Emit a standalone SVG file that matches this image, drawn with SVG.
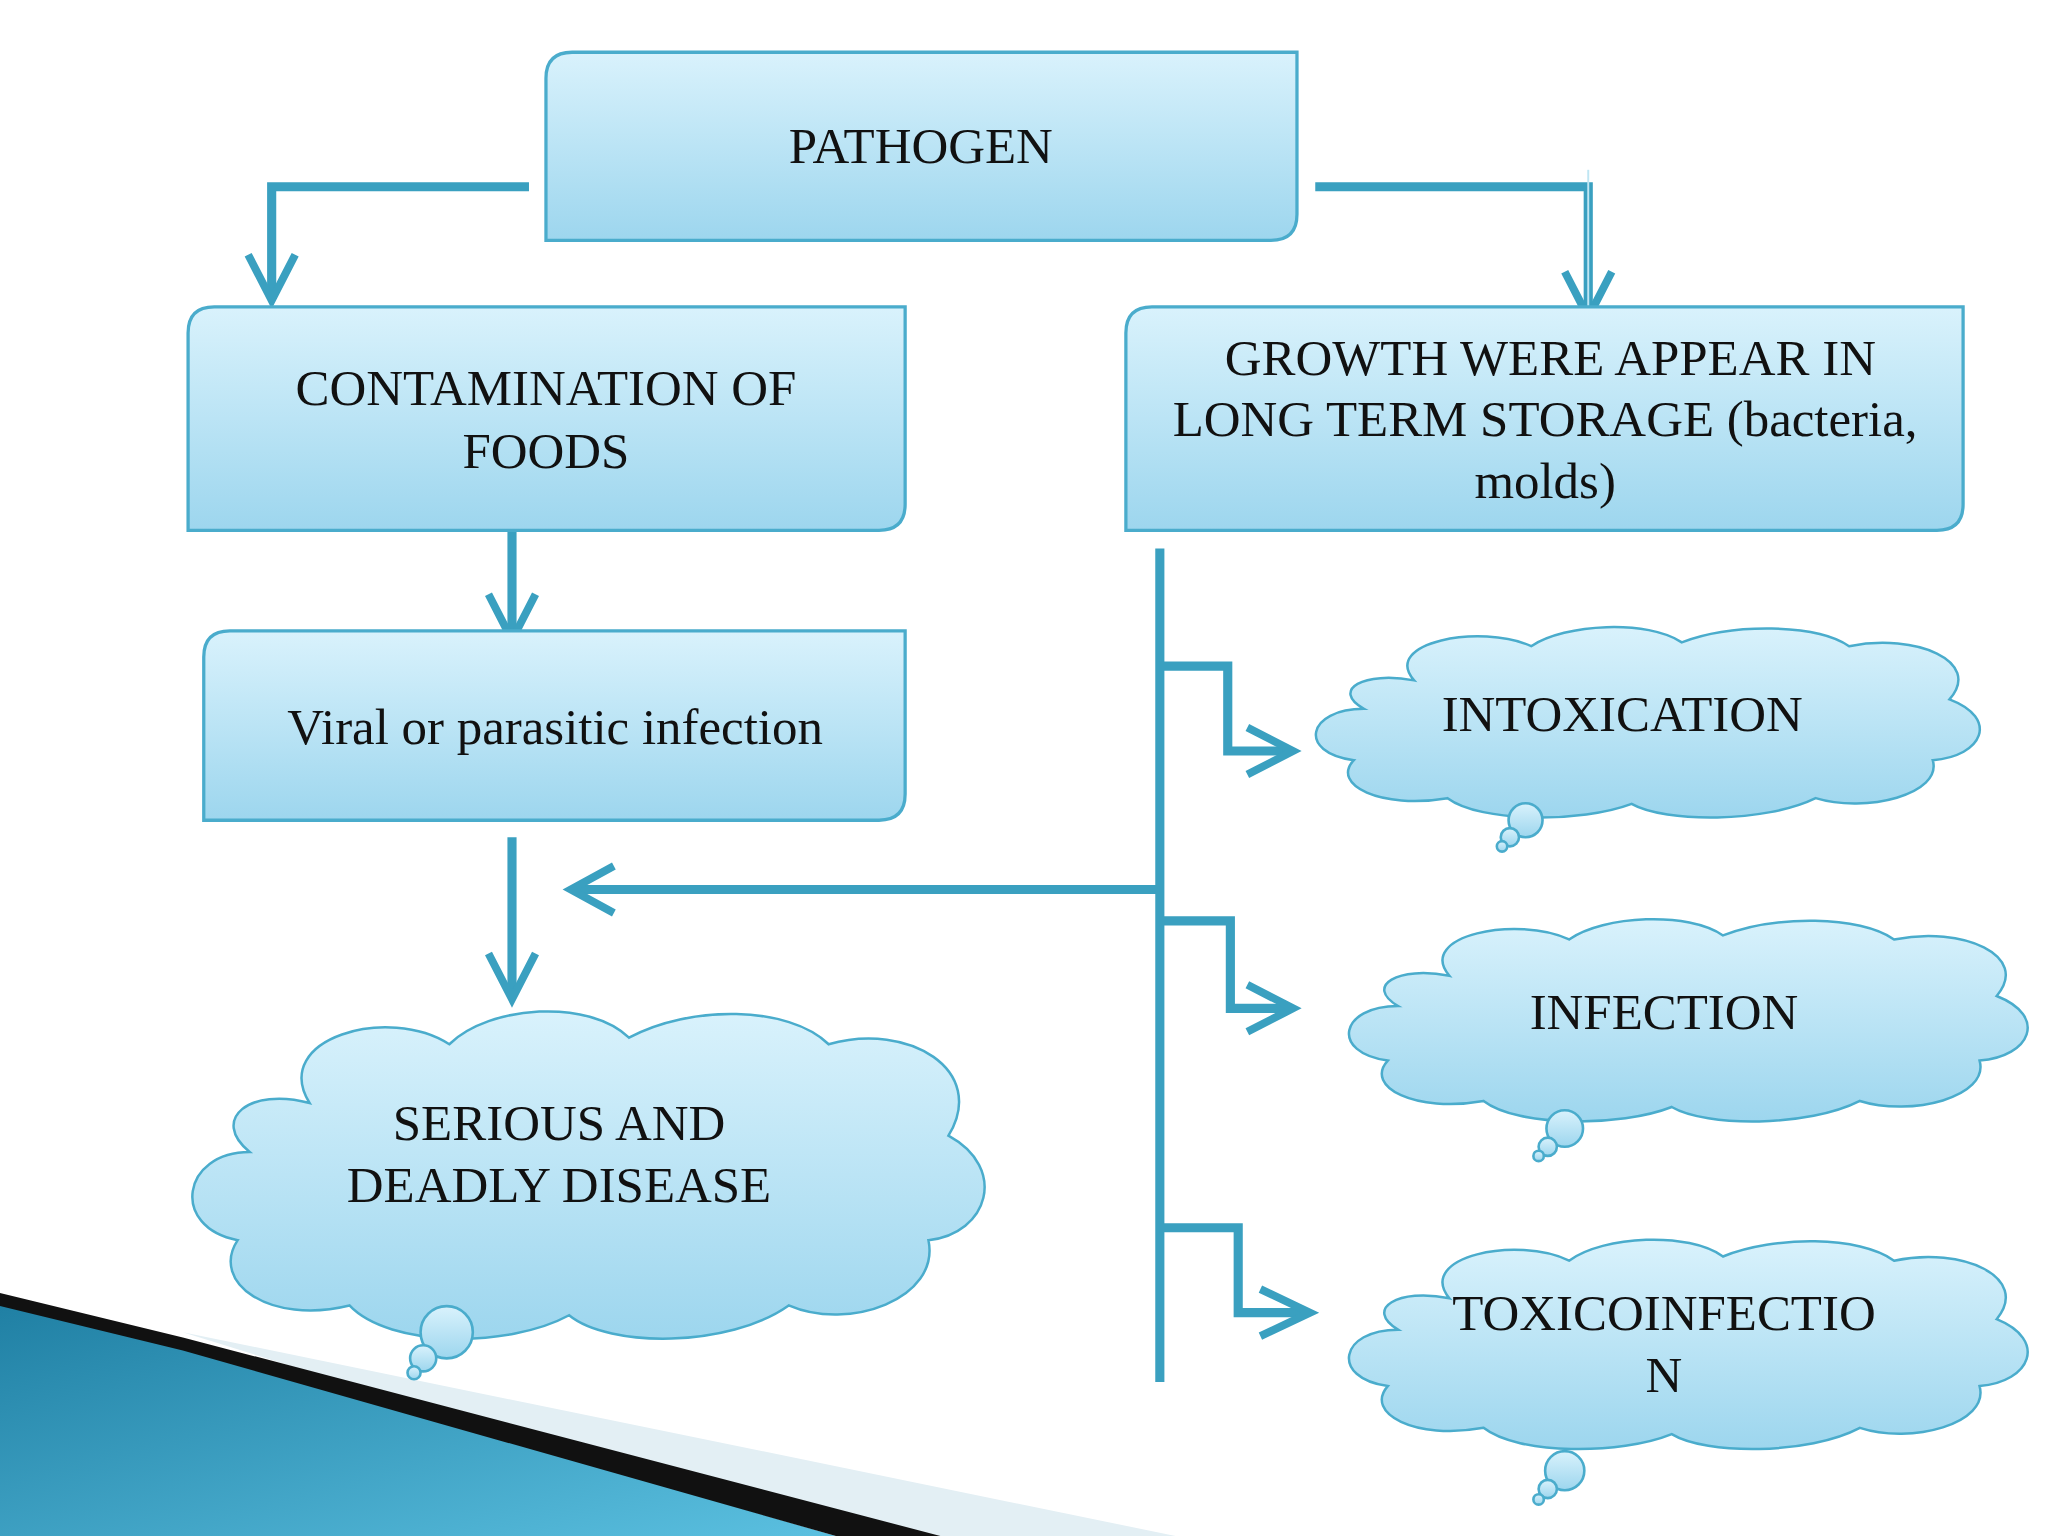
<svg xmlns="http://www.w3.org/2000/svg" width="2048" height="1536" viewBox="0 0 2048 1536">
<defs>
<linearGradient id="bx" x1="0" y1="0" x2="0" y2="1"><stop offset="0" stop-color="#d9f2fc"/><stop offset="1" stop-color="#9dd6ee"/></linearGradient>
<linearGradient id="wedge" x1="0" y1="0" x2="1" y2="1"><stop offset="0" stop-color="#1f7fa3"/><stop offset="1" stop-color="#5bc0e0"/></linearGradient>
<symbol id="cloud" viewBox="-5 -5 210 110" preserveAspectRatio="none">
<path d="M30,30 C20,10 50,0 65,12 C75,0 100,-2 110,10 C125,0 150,0 160,12 C180,5 200,20 190,40 C205,50 200,70 185,72 C188,90 165,100 150,92 C135,105 105,105 95,95 C80,105 50,105 40,92 C20,98 5,85 12,72 C-5,68 -2,45 15,45 C5,35 15,25 30,30 Z" fill="url(#bx)" stroke="#4aaccc" stroke-width="2.5" vector-effect="non-scaling-stroke"/>
</symbol>
</defs>
<style>
.box{fill:url(#bx);stroke:#4aaccc;stroke-width:2.5}
.t{font-family:"Liberation Serif",serif;font-size:39px;fill:#111;text-anchor:middle}
.c{fill:none;stroke:#3aa0c0;stroke-width:7}
.ci{fill:none;stroke:#bfe6f3;stroke-width:1.5}
.bub{fill:url(#bx);stroke:#4aaccc;stroke-width:2}
</style>
<rect width="2048" height="1536" fill="#fff"/>
<g transform="scale(1.30612)">
<g id="deco">
<polygon points="140,1020 900,1176 640,1176" fill="#e3eff4"/>
<polygon points="0,995 140,1030 640,1176 0,1176" fill="url(#wedge)"/>
<polygon points="0,990 140,1024 720,1176 640,1176 140,1034 0,1000" fill="#111"/>
</g>
<g id="connectors">
<path class="c" d="M405,143 H208 V228"/><path class="c" d="M1007,143 H1216 V240"/>
<path class="c" d="M392,406 V488"/><path class="c" d="M392,641 V762"/>
<path class="c" d="M888,420 V1058"/><path class="c" d="M888,681 H440"/>
<path class="c" d="M888,510 H940 V575 H985"/><path class="c" d="M888,705 H942 V772 H985"/><path class="c" d="M888,940 H948 V1005 H998"/>
<g fill="none" stroke="#3aa0c0" stroke-width="6">
<path d="M190,195 L208,230 L226,195"/><path d="M1198,208 L1216,243 L1234,208"/>
<path d="M374,455 L392,490 L410,455"/><path d="M374,730 L392,765 L410,730"/>
<path d="M470,663 L437,681 L470,699"/>
<path d="M955,557 L990,575 L955,593"/><path d="M955,754 L990,772 L955,790"/><path d="M965,987 L1003,1005 L965,1023"/>
</g>
<path class="ci" d="M1216,130 V240"/>
</g>
<g id="pathogen"><path class="box" d="M438,40 H993 V164 Q993,184 973,184 H418 V60 Q418,40 438,40 Z"/><text class="t" x="705" y="125">PATHOGEN</text></g>
<g id="contamination"><path class="box" d="M164,235 H693 V386 Q693,406 673,406 H144 V255 Q144,235 164,235 Z"/><text class="t" x="418" y="310">CONTAMINATION OF</text><text class="t" x="418" y="358">FOODS</text></g>
<g id="growth"><path class="box" d="M882,235 H1503 V386 Q1503,406 1483,406 H862 V255 Q862,235 882,235 Z"/><text class="t" x="1187" y="287">GROWTH WERE APPEAR IN</text><text class="t" x="1183" y="334">LONG TERM STORAGE (bacteria,</text><text class="t" x="1183" y="381">molds)</text></g>
<g id="viral"><path class="box" d="M176,483 H693 V608 Q693,628 673,628 H156 V503 Q156,483 176,483 Z"/><text class="t" x="425" y="570">Viral or parasitic infection</text></g>
<g id="serious"><use href="#cloud" x="130" y="757" width="642" height="275"/><circle class="bub" cx="342" cy="1020" r="20"/><circle class="bub" cx="324" cy="1040" r="10"/><circle class="bub" cx="317" cy="1051" r="5"/><text class="t" x="428" y="873">SERIOUS AND</text><text class="t" x="428" y="920">DEADLY DISEASE</text></g>
<g id="intox"><use href="#cloud" x="993" y="470" width="538" height="160"/><circle class="bub" cx="1168" cy="628" r="13"/><circle class="bub" cx="1156" cy="641" r="7"/><circle class="bub" cx="1150" cy="648" r="4"/><text class="t" x="1242" y="560">INTOXICATION</text></g>
<g id="infection"><use href="#cloud" x="1018" y="693" width="550" height="170"/><circle class="bub" cx="1198" cy="864" r="14"/><circle class="bub" cx="1185" cy="878" r="7"/><circle class="bub" cx="1178" cy="885" r="4"/><text class="t" x="1274" y="788">INFECTION</text></g>
<g id="toxico"><use href="#cloud" x="1018" y="938" width="550" height="176"/><circle class="bub" cx="1198" cy="1126" r="15"/><circle class="bub" cx="1185" cy="1140" r="7"/><circle class="bub" cx="1178" cy="1148" r="4"/><text class="t" x="1274" y="1018">TOXICOINFECTIO</text><text class="t" x="1274" y="1066">N</text></g>
</g>
</svg>
